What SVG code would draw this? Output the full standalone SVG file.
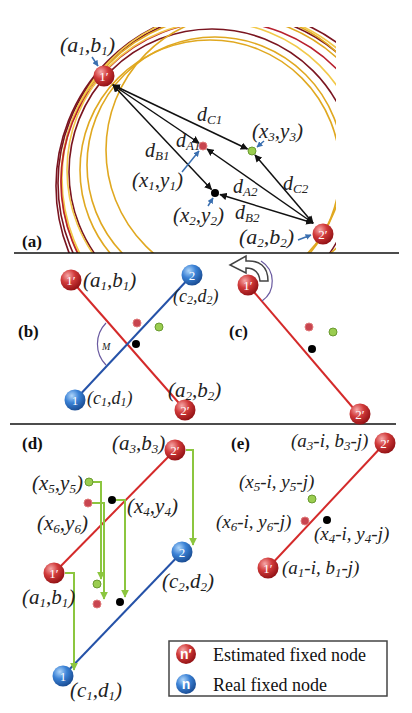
<svg xmlns="http://www.w3.org/2000/svg" width="412" height="713" viewBox="0 0 412 713">
<style>
.t{font-family:"Liberation Serif",serif;font-style:italic;fill:#222;font-size:21px}
.s{font-size:13px}
.pl{font-family:"Liberation Serif",serif;font-weight:bold;fill:#111;font-size:17px}
.nt{font-family:"Liberation Serif",serif;fill:#fff;font-size:13px;text-anchor:middle}
.lg{font-family:"Liberation Serif",serif;fill:#111;font-size:18px}
.sep{stroke:#111;stroke-width:1.3}
.rl{stroke:#d42a2a;stroke-width:2;fill:none}
.bl{stroke:#2552a8;stroke-width:2;fill:none}
.ga{stroke:#8cc63f;stroke-width:2;fill:none;marker-end:url(#ga)}
.da{stroke:#111;stroke-width:1.5;fill:none;marker-start:url(#ka);marker-end:url(#ka)}
.ba{stroke:#3a6fb0;stroke-width:1.5;fill:none;marker-end:url(#ba)}
.cdr{stroke:#7a1520;stroke-width:1.6;fill:none}
.cr{stroke:#b8202e;stroke-width:1.6;fill:none}
.cg{stroke:#e0a820;stroke-width:1.6;fill:none}
.cy{stroke:#f2c94a;stroke-width:1.6;fill:none}
.rd{fill:#c8454f;stroke:#e07a7a;stroke-width:1}
.gd{fill:#9acd50;stroke:#6a9a30;stroke-width:1}
.kd{fill:#000}
.arc{stroke:#6a5aa0;stroke-width:1.2;fill:none}
</style>
<defs>
<radialGradient id="rg" cx="35%" cy="30%" r="75%">
<stop offset="0" stop-color="#f6a8a8"/><stop offset="0.45" stop-color="#d13a3a"/><stop offset="1" stop-color="#8e0f12"/>
</radialGradient>
<radialGradient id="bg" cx="35%" cy="30%" r="75%">
<stop offset="0" stop-color="#b0d6fa"/><stop offset="0.45" stop-color="#3b82d6"/><stop offset="1" stop-color="#18498f"/>
</radialGradient>
<marker id="ka" viewBox="0 0 10 10" refX="9" refY="5" markerWidth="5" markerHeight="5" orient="auto-start-reverse"><path d="M0 0L10 5L0 10Z" fill="#111"/></marker>
<marker id="ga" viewBox="0 0 10 10" refX="9" refY="5" markerWidth="4" markerHeight="4" orient="auto"><path d="M0 0L10 5L0 10Z" fill="#8cc63f"/></marker>
<marker id="ba" viewBox="0 0 10 10" refX="9" refY="5" markerWidth="4" markerHeight="4" orient="auto"><path d="M0 0L10 5L0 10Z" fill="#3a6fb0"/></marker>
<clipPath id="clipA"><rect x="0" y="27" width="336" height="226"/></clipPath>
</defs>
<rect width="412" height="713" fill="#fff"/>

<g id="circles-a" clip-path="url(#clipA)">
<circle class="cdr" cx="233" cy="186" r="177"/>
<circle class="cdr" cx="228" cy="183" r="170"/>
<circle class="cg" cx="226" cy="180" r="165"/>
<circle class="cy" cx="230" cy="178" r="168"/>
<circle class="cr" cx="222" cy="182" r="161"/>
<circle class="cdr" cx="212" cy="172" r="143"/>
<circle class="cg" cx="242" cy="150" r="136"/>
<circle class="cg" cx="215" cy="165" r="128"/>
<circle class="cy" cx="215" cy="170" r="148"/>
<circle class="cg" cx="210" cy="170" r="130"/>
</g>

<g id="separators">
<line class="sep" x1="14" y1="253" x2="399" y2="253"/>
<line class="sep" x1="10" y1="424" x2="396" y2="424"/>
</g>

<g id="connectors">
<line class="da" x1="113" y1="85" x2="199" y2="143"/>
<line class="da" x1="113" y1="85" x2="247.5" y2="149"/>
<line class="da" x1="113" y1="85" x2="211.5" y2="189.5"/>
<line class="da" x1="313" y1="223" x2="207" y2="149"/>
<line class="da" x1="313" y1="223" x2="255" y2="155"/>
<line class="da" x1="313" y1="223" x2="220" y2="194.5"/>
<line class="ba" x1="92" y1="57" x2="98" y2="66"/>
<line class="ba" x1="182" y1="172" x2="199" y2="151"/>
<line class="ba" x1="208" y1="206" x2="213" y2="198"/>
<line class="ba" x1="264" y1="141" x2="257" y2="147"/>
<line class="ba" x1="298" y1="240" x2="311" y2="235"/>
<line class="rl" x1="71" y1="280" x2="185" y2="410"/>
<line class="bl" x1="75" y1="400" x2="192" y2="275"/>
<path class="arc" d="M106 323A30 30 0 0 0 106 365"/>
<line class="rl" x1="248" y1="285" x2="360" y2="416"/>
<path class="arc" d="M261 261A24 24 0 0 1 262 301"/>
<path d="M268 281C268 266 259 260 246 261L246 256L230 265L246 273L246 268C254 268 259 272 260 281Z" fill="#fff" stroke="#444" stroke-width="1.5"/>
<line class="rl" x1="175" y1="450" x2="54" y2="573"/>
<line class="bl" x1="63" y1="676" x2="182" y2="552"/>
<path class="ga" d="M93 482H101V579"/>
<path class="ga" d="M92 503H104V599"/>
<path class="ga" d="M116 500H125V597"/>
<path class="ga" d="M186 450H193V545"/>
<path class="ga" d="M65 573H74V670"/>
<line class="rl" x1="385" y1="443" x2="268" y2="568"/>
</g>

<g id="points">
<circle class="rd" cx="203" cy="146" r="4"/><circle class="gd" cx="252" cy="151" r="4"/><circle class="kd" cx="215" cy="193" r="4"/>
<circle class="rd" cx="137" cy="323" r="4"/><circle class="gd" cx="159" cy="327" r="4"/><circle class="kd" cx="136" cy="344" r="4"/>
<circle class="rd" cx="309" cy="327" r="4"/><circle class="gd" cx="333" cy="332" r="4"/><circle class="kd" cx="312" cy="349" r="4"/>
<circle class="gd" cx="89" cy="482" r="4"/><circle class="rd" cx="88" cy="503" r="4"/><circle class="kd" cx="112" cy="500" r="4"/>
<circle class="gd" cx="97" cy="584" r="4"/><circle class="rd" cx="97" cy="604" r="4"/><circle class="kd" cx="120" cy="602" r="4"/>
<circle class="gd" cx="312" cy="499" r="4"/><circle class="rd" cx="305" cy="521" r="4"/><circle class="kd" cx="327" cy="520" r="4"/>
</g>

<g id="a-n1e"><circle cx="104" cy="76" r="10.5" fill="url(#rg)"/><text class="nt" x="104" y="80.5">1′</text></g>
<g id="a-n2e"><circle cx="323" cy="234" r="10.5" fill="url(#rg)"/><text class="nt" x="323" y="238.5">2′</text></g>
<g id="b-n1e"><circle cx="71" cy="280" r="10.5" fill="url(#rg)"/><text class="nt" x="71" y="284.5">1′</text></g>
<g id="b-n2"><circle cx="192" cy="275" r="10.5" fill="url(#bg)"/><text class="nt" x="192" y="279.5">2</text></g>
<g id="b-n1"><circle cx="75" cy="400" r="10.5" fill="url(#bg)"/><text class="nt" x="75" y="404.5">1</text></g>
<g id="b-n2e"><circle cx="185" cy="410" r="10.5" fill="url(#rg)"/><text class="nt" x="185" y="414.5">2′</text></g>
<g id="c-n1e"><circle cx="248" cy="285" r="10.5" fill="url(#rg)"/><text class="nt" x="248" y="289.5">1′</text></g>
<g id="c-n2e"><circle cx="360" cy="414" r="10.5" fill="url(#rg)"/><text class="nt" x="360" y="418.5">2′</text></g>
<g id="d-n2e"><circle cx="175" cy="450" r="10.5" fill="url(#rg)"/><text class="nt" x="175" y="454.5">2′</text></g>
<g id="d-n1e"><circle cx="54" cy="573" r="10.5" fill="url(#rg)"/><text class="nt" x="54" y="577.5">1′</text></g>
<g id="d-n2"><circle cx="182" cy="552" r="10.5" fill="url(#bg)"/><text class="nt" x="182" y="556.5">2</text></g>
<g id="d-n1"><circle cx="63" cy="676" r="10.5" fill="url(#bg)"/><text class="nt" x="63" y="680.5">1</text></g>
<g id="e-n2e"><circle cx="385" cy="443" r="10.5" fill="url(#rg)"/><text class="nt" x="385" y="447.5">2′</text></g>
<g id="e-n1e"><circle cx="268" cy="568" r="10.5" fill="url(#rg)"/><text class="nt" x="268" y="572.5">1′</text></g>

<g id="labels">
<text class="pl" x="22" y="247">(a)</text>
<text class="pl" x="18" y="337">(b)</text>
<text class="pl" x="229" y="337">(c)</text>
<text class="pl" x="22" y="449">(d)</text>
<text class="pl" x="231" y="449">(e)</text>

<text class="t" x="60" y="52" style="font-size:22px">(a<tspan class="s" dy="3">1</tspan><tspan dy="-3">,b</tspan><tspan class="s" dy="3">1</tspan><tspan dy="-3">)</tspan></text>
<text class="t" x="197" y="121" style="font-size:20px">d<tspan class="s" dy="3">C1</tspan></text>
<text class="t" x="252" y="138">(x<tspan class="s" dy="3">3</tspan><tspan dy="-3">,y</tspan><tspan class="s" dy="3">3</tspan><tspan dy="-3">)</tspan></text>
<text class="t" x="176" y="147" style="font-size:20px">d<tspan class="s" dy="3">A1</tspan></text>
<text class="t" x="145" y="157" style="font-size:20px">d<tspan class="s" dy="3">B1</tspan></text>
<text class="t" x="132" y="187">(x<tspan class="s" dy="3">1</tspan><tspan dy="-3">,y</tspan><tspan class="s" dy="3">1</tspan><tspan dy="-3">)</tspan></text>
<text class="t" x="173" y="222">(x<tspan class="s" dy="3">2</tspan><tspan dy="-3">,y</tspan><tspan class="s" dy="3">2</tspan><tspan dy="-3">)</tspan></text>
<text class="t" x="233" y="193" style="font-size:20px">d<tspan class="s" dy="3">A2</tspan></text>
<text class="t" x="235" y="219" style="font-size:20px">d<tspan class="s" dy="3">B2</tspan></text>
<text class="t" x="283" y="190" style="font-size:20px">d<tspan class="s" dy="3">C2</tspan></text>
<text class="t" x="239" y="244" style="font-size:22px">(a<tspan class="s" dy="3">2</tspan><tspan dy="-3">,b</tspan><tspan class="s" dy="3">2</tspan><tspan dy="-3">)</tspan></text>

<text class="t" x="83" y="287">(a<tspan class="s" dy="3">1</tspan><tspan dy="-3">,b</tspan><tspan class="s" dy="3">1</tspan><tspan dy="-3">)</tspan></text>
<text class="t" x="173" y="302" style="font-size:18px">(c<tspan style="font-size:12px" dy="2">2</tspan><tspan dy="-2">,d</tspan><tspan style="font-size:12px" dy="2">2</tspan><tspan dy="-2">)</tspan></text>
<text class="t" x="168" y="397">(a<tspan class="s" dy="3">2</tspan><tspan dy="-3">,b</tspan><tspan class="s" dy="3">2</tspan><tspan dy="-3">)</tspan></text>
<text class="t" x="87" y="404" style="font-size:18px">(c<tspan style="font-size:12px" dy="2">1</tspan><tspan dy="-2">,d</tspan><tspan style="font-size:12px" dy="2">1</tspan><tspan dy="-2">)</tspan></text>
<text class="t" x="102" y="350" style="font-size:10px">M</text>

<text class="t" x="112" y="450">(a<tspan class="s" dy="3">3</tspan><tspan dy="-3">,b</tspan><tspan class="s" dy="3">3</tspan><tspan dy="-3">)</tspan></text>
<text class="t" x="32" y="490">(x<tspan class="s" dy="3">5</tspan><tspan dy="-3">,y</tspan><tspan class="s" dy="3">5</tspan><tspan dy="-3">)</tspan></text>
<text class="t" x="127" y="513">(x<tspan class="s" dy="3">4</tspan><tspan dy="-3">,y</tspan><tspan class="s" dy="3">4</tspan><tspan dy="-3">)</tspan></text>
<text class="t" x="37" y="530">(x<tspan class="s" dy="3">6</tspan><tspan dy="-3">,y</tspan><tspan class="s" dy="3">6</tspan><tspan dy="-3">)</tspan></text>
<text class="t" x="22" y="604">(a<tspan class="s" dy="3">1</tspan><tspan dy="-3">,b</tspan><tspan class="s" dy="3">1</tspan><tspan dy="-3">)</tspan></text>
<text class="t" x="162" y="588">(c<tspan class="s" dy="3">2</tspan><tspan dy="-3">,d</tspan><tspan class="s" dy="3">2</tspan><tspan dy="-3">)</tspan></text>
<text class="t" x="70" y="697">(c<tspan class="s" dy="3">1</tspan><tspan dy="-3">,d</tspan><tspan class="s" dy="3">1</tspan><tspan dy="-3">)</tspan></text>

<text class="t" x="291" y="447" style="font-size:19px">(a<tspan class="s" dy="3">3</tspan><tspan dy="-3">-i, b</tspan><tspan class="s" dy="3">3</tspan><tspan dy="-3">-j)</tspan></text>
<text class="t" x="239" y="488" style="font-size:19px">(x<tspan class="s" dy="3">5</tspan><tspan dy="-3">-i, y</tspan><tspan class="s" dy="3">5</tspan><tspan dy="-3">-j)</tspan></text>
<text class="t" x="216" y="528" style="font-size:19px">(x<tspan class="s" dy="3">6</tspan><tspan dy="-3">-i, y</tspan><tspan class="s" dy="3">6</tspan><tspan dy="-3">-j)</tspan></text>
<text class="t" x="314" y="540" style="font-size:19px">(x<tspan class="s" dy="3">4</tspan><tspan dy="-3">-i, y</tspan><tspan class="s" dy="3">4</tspan><tspan dy="-3">-j)</tspan></text>
<text class="t" x="282" y="574" style="font-size:19px">(a<tspan class="s" dy="3">1</tspan><tspan dy="-3">-i, b</tspan><tspan class="s" dy="3">1</tspan><tspan dy="-3">-j)</tspan></text>
</g>

<g id="legend">
<rect x="169" y="641" width="218" height="55" fill="#fff" stroke="#444" stroke-width="1.5"/>
<circle cx="186" cy="654" r="10" fill="url(#rg)"/>
<text x="186" y="659" font-family="Liberation Sans,sans-serif" font-weight="bold" font-size="14" fill="#fff" text-anchor="middle">n′</text>
<circle cx="186" cy="684" r="10" fill="url(#bg)"/>
<text x="186" y="689" font-family="Liberation Sans,sans-serif" font-weight="bold" font-size="14" fill="#fff" text-anchor="middle">n</text>
<text class="lg" x="213" y="661">Estimated fixed node</text>
<text class="lg" x="213" y="691">Real fixed node</text>
</g>
</svg>
